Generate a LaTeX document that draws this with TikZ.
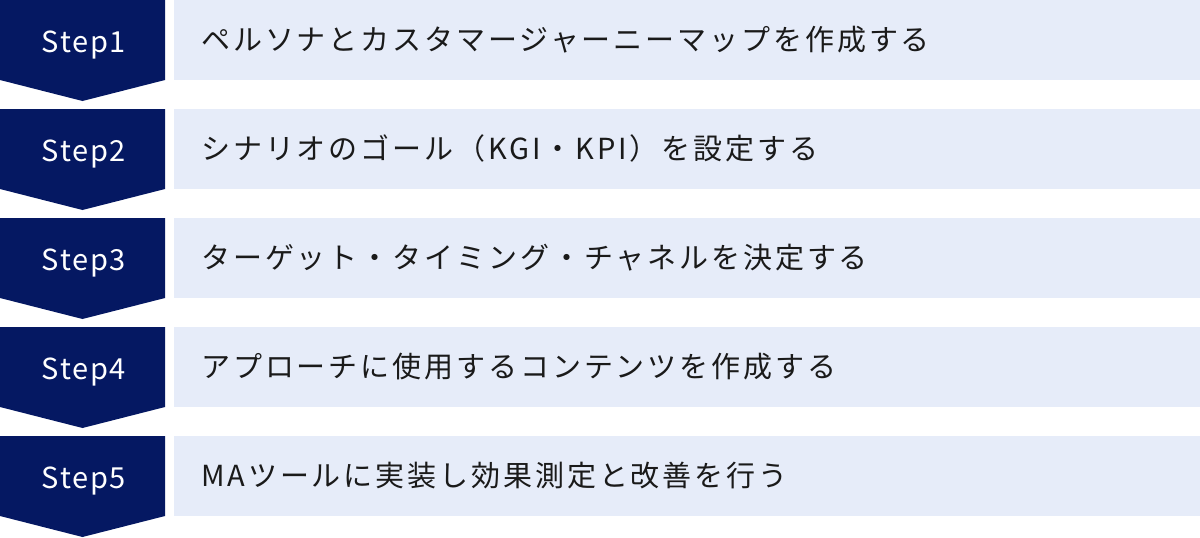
\documentclass[tikz,border=0pt]{standalone}
\usepackage{fontspec}
\setmainfont{Noto Sans CJK JP}
\newfontfamily\stepfont[LetterSpace=6]{Noto Sans CJK JP}
\newfontfamily\rowfont[LetterSpace=10]{Noto Sans CJK JP}
\definecolor{stepnavy}{RGB}{5,24,98}
\definecolor{rowblue}{RGB}{230,236,249}
\definecolor{rowtext}{RGB}{26,26,26}
\begin{document}
\begin{tikzpicture}[
    x=1pt, y=-1pt,
    steparrow/.style={
        fill=stepnavy
    },
    steplabel/.style={
        text=white,
        font=\stepfont\fontsize{29}{32}\selectfont,
        anchor=base,
        inner sep=0pt
    },
    rowbox/.style={
        fill=rowblue
    },
    rowlabel/.style={
        text=rowtext,
        font=\rowfont\fontsize{29}{32}\selectfont,
        anchor=base west,
        inner sep=0pt
    }
]
\useasboundingbox (0,0) rectangle (1200,538);

% step arrows
\fill[steparrow] (0,0) -- (165,0) -- (165,80) -- (82.5,101) -- (0,80) -- cycle;
\fill[steparrow] (0,109) -- (165,109) -- (165,189) -- (82.5,210) -- (0,189) -- cycle;
\fill[steparrow] (0,218) -- (165,218) -- (165,298) -- (82.5,319) -- (0,298) -- cycle;
\fill[steparrow] (0,327) -- (165,327) -- (165,407) -- (82.5,428) -- (0,407) -- cycle;
\fill[steparrow] (0,436) -- (165,436) -- (165,516) -- (82.5,537) -- (0,516) -- cycle;

\node[steplabel] (s1) at (84,52) {Step1};
\node[steplabel] (s2) at (84,161) {Step2};
\node[steplabel] (s3) at (84,270) {Step3};
\node[steplabel] (s4) at (84,379) {Step4};
\node[steplabel] (s5) at (84,488) {Step5};

% row boxes
\fill[rowbox] (174,0) rectangle (1200,80);
\fill[rowbox] (174,109) rectangle (1200,189);
\fill[rowbox] (174,218) rectangle (1200,298);
\fill[rowbox] (174,327) rectangle (1200,407);
\fill[rowbox] (174,436) rectangle (1200,516);

\node[rowlabel] (r1) at (201,50) {ペルソナとカスタマージャーニーマップを作成する};
\node[rowlabel] (r2) at (201,159) {シナリオのゴール（KGI・KPI）を設定する};
\node[rowlabel] (r3) at (201,268) {ターゲット・タイミング・チャネルを決定する};
\node[rowlabel] (r4) at (201,377) {アプローチに使用するコンテンツを作成する};
\node[rowlabel] (r5) at (201,486) {MAツールに実装し効果測定と改善を行う};

\end{tikzpicture}
\end{document}
